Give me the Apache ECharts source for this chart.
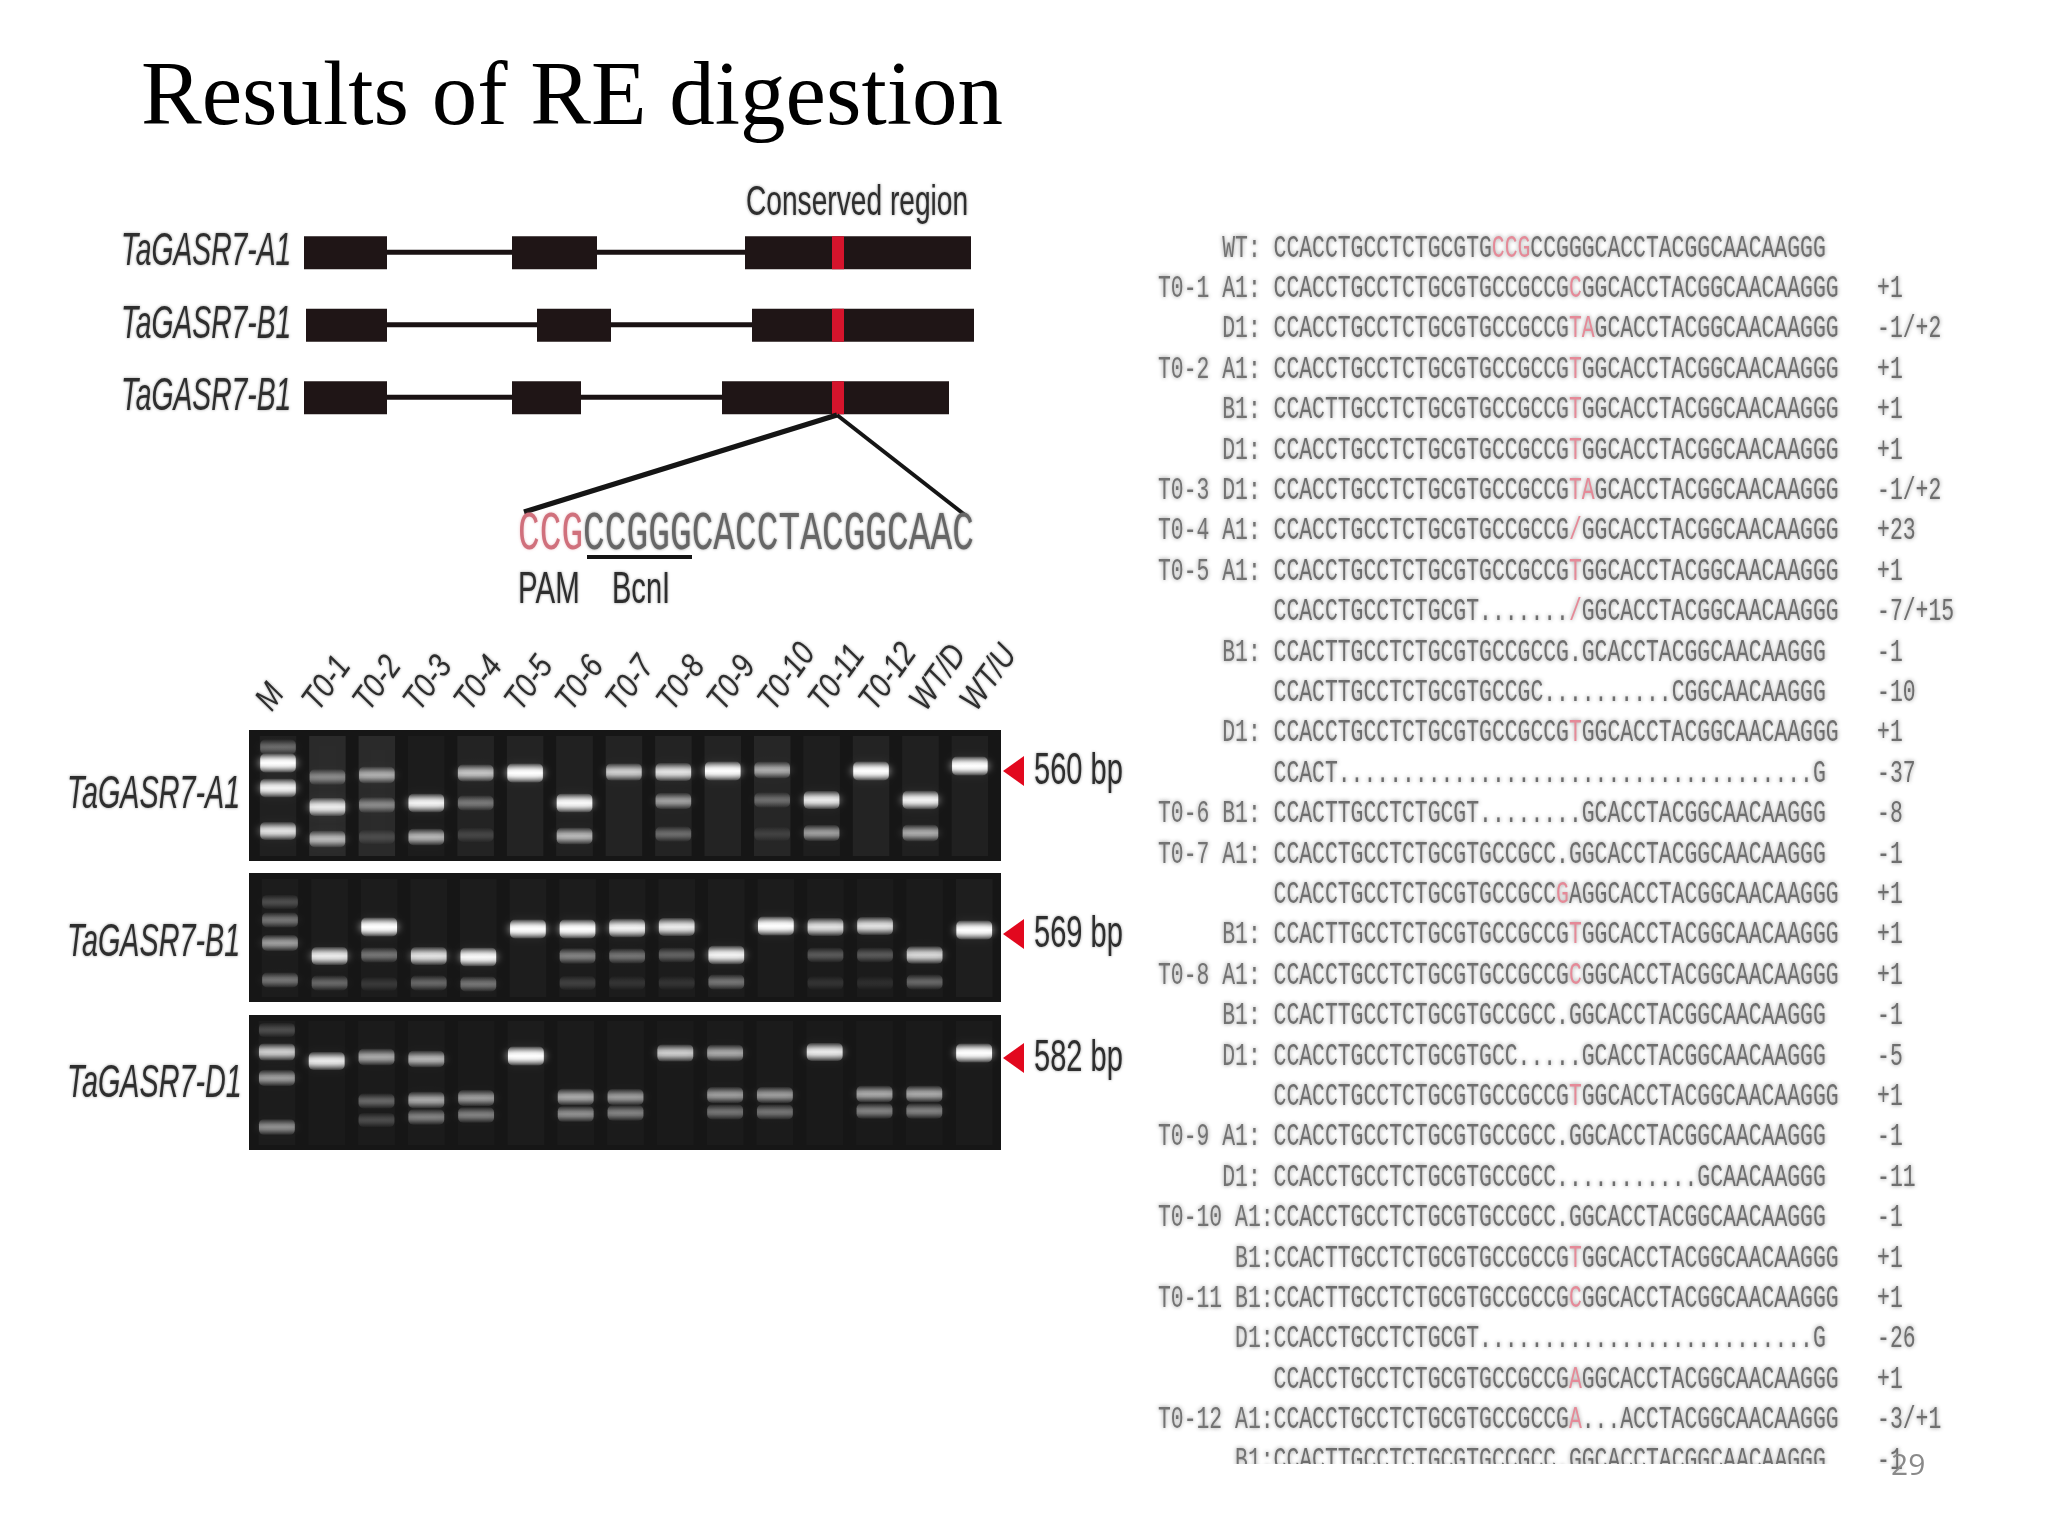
<!DOCTYPE html>
<html>
<head>
<meta charset="utf-8">
<title>Results of RE digestion</title>
<script src="https://cdn.jsdelivr.net/npm/echarts@6/dist/echarts.min.js"></script>
<style>
  html, body { margin: 0; padding: 0; background: #fff; }
  #main { width: 2048px; height: 1536px; }
</style>
</head>
<body>
<div id="main"></div>
<script>
var slideTitle = 'Results of RE digestion';
var pageNumber = '29';

// gene models, positions along the gene
var geneNames = ['TaGASR7-A1', 'TaGASR7-B1', 'TaGASR7-B1'];
var exonStarts = [[0, 208, 441], [2, 233, 448], [0, 208, 418]];
var exonEnds = [[83, 293, 667], [83, 307, 670], [83, 277, 645]];
var targetSite = [[528, 540], [528, 540], [528, 540]];

var targetPam = 'CCG';
var targetRest = 'CCGGGCACCTACGGCAAC';

// gels: one list per lane
var laneNames = ['M', 'T0-1', 'T0-2', 'T0-3', 'T0-4', 'T0-5', 'T0-6', 'T0-7', 'T0-8', 'T0-9', 'T0-10', 'T0-11', 'T0-12', 'WT/D', 'WT/U'];
var gelNames = ['TaGASR7-A1', 'TaGASR7-B1', 'TaGASR7-D1'];
var bpLabels = ['560 bp', '569 bp', '582 bp'];
var bpMigration = [41, 61, 43];

var gelA1Migration = [[17, 33, 58, 101], [47, 77, 109], [45, 75, 107], [73, 107], [43, 73, 105], [43], [73, 106], [42], [42, 71, 104], [41], [40, 70, 104], [70, 103], [41], [70, 103], [36]];
var gelA1Signal = [[.3, 1, .9, .8], [.4, .85, .6], [.55, .4, .15], [.9, .6], [.65, .35, .15], [1], [.95, .6], [.7], [.8, .5, .3], [1], [.55, .3, .12], [.85, .5], [1], [.9, .55], [1]];
var gelA1Haze = [.2, .5, .5, .1, .3, .3, .25, .3, .3, .3, .4, .15, .3, .2, .2];

var gelB1Migration = [[29, 47, 70, 107], [83, 110], [54, 82, 111], [83, 110], [84, 111], [56], [56, 83, 110], [55, 83, 110], [54, 82, 110], [82, 109], [53], [54, 82, 110], [53, 82, 110], [82, 109], [57]];
var gelB1Signal = [[.2, .35, .5, .35], [.85, .3], [1, .35, .12], [.8, .3], [.95, .35], [1], [1, .4, .15], [.9, .35, .1], [.85, .28, .1], [.9, .35], [1], [.8, .25, .1], [.8, .25, .08], [.75, .3], [1]];
var gelB1Haze = [.1, .08, .08, .08, .08, .12, .1, .08, .08, .08, .1, .06, .06, .06, .15];

var gelD1Migration = [[15, 37, 63, 112], [46], [42, 86, 105], [44, 85, 102], [83, 100], [41], [82, 99], [82, 98], [38], [38, 80, 97], [80, 97], [37], [79, 96], [79, 96], [38]];
var gelD1Signal = [[.2, .7, .5, .45], [.85], [.55, .3, .2], [.6, .55, .4], [.5, .4], [1], [.55, .45], [.5, .4], [.7], [.55, .5, .35], [.5, .35], [.85], [.55, .4], [.55, .4], [1]];
var gelD1Haze = [.08, .04, .06, .06, .04, .08, .05, .05, .04, .05, .05, .04, .04, .04, .06];

// sequences, the edited bases are in []
var rowPrefix = ['     WT: ', 'T0-1 A1: ', '     D1: ', 'T0-2 A1: ', '     B1: ', '     D1: ', 'T0-3 D1: ', 'T0-4 A1: ', 'T0-5 A1: ', '         ', '     B1: ', '         ', '     D1: ', '         ', 'T0-6 B1: ', 'T0-7 A1: ', '         ', '     B1: ', 'T0-8 A1: ', '     B1: ', '     D1: ', '         ', 'T0-9 A1: ', '     D1: ', 'T0-10 A1:', '      B1:', 'T0-11 B1:', '      D1:', '         ', 'T0-12 A1:', '      B1:'];
var rowSeq = [
  'CCACCTGCCTCTGCGTG[CCG]CCGGGCACCTACGGCAACAAGGG',
  'CCACCTGCCTCTGCGTGCCGCCG[C]GGCACCTACGGCAACAAGGG',
  'CCACCTGCCTCTGCGTGCCGCCG[TA]GCACCTACGGCAACAAGGG',
  'CCACCTGCCTCTGCGTGCCGCCG[T]GGCACCTACGGCAACAAGGG',
  'CCACTTGCCTCTGCGTGCCGCCG[T]GGCACCTACGGCAACAAGGG',
  'CCACCTGCCTCTGCGTGCCGCCG[T]GGCACCTACGGCAACAAGGG',
  'CCACCTGCCTCTGCGTGCCGCCG[TA]GCACCTACGGCAACAAGGG',
  'CCACCTGCCTCTGCGTGCCGCCG[/]GGCACCTACGGCAACAAGGG',
  'CCACCTGCCTCTGCGTGCCGCCG[T]GGCACCTACGGCAACAAGGG',
  'CCACCTGCCTCTGCGT.......[/]GGCACCTACGGCAACAAGGG',
  'CCACTTGCCTCTGCGTGCCGCCG.GCACCTACGGCAACAAGGG',
  'CCACTTGCCTCTGCGTGCCGC..........CGGCAACAAGGG',
  'CCACCTGCCTCTGCGTGCCGCCG[T]GGCACCTACGGCAACAAGGG',
  'CCACT.....................................G',
  'CCACTTGCCTCTGCGT........GCACCTACGGCAACAAGGG',
  'CCACCTGCCTCTGCGTGCCGCC.GGCACCTACGGCAACAAGGG',
  'CCACCTGCCTCTGCGTGCCGCC[G]AGGCACCTACGGCAACAAGGG',
  'CCACTTGCCTCTGCGTGCCGCCG[T]GGCACCTACGGCAACAAGGG',
  'CCACCTGCCTCTGCGTGCCGCCG[C]GGCACCTACGGCAACAAGGG',
  'CCACTTGCCTCTGCGTGCCGCC.GGCACCTACGGCAACAAGGG',
  'CCACCTGCCTCTGCGTGCC.....GCACCTACGGCAACAAGGG',
  'CCACCTGCCTCTGCGTGCCGCCG[T]GGCACCTACGGCAACAAGGG',
  'CCACCTGCCTCTGCGTGCCGCC.GGCACCTACGGCAACAAGGG',
  'CCACCTGCCTCTGCGTGCCGCC...........GCAACAAGGG',
  'CCACCTGCCTCTGCGTGCCGCC.GGCACCTACGGCAACAAGGG',
  'CCACTTGCCTCTGCGTGCCGCCG[T]GGCACCTACGGCAACAAGGG',
  'CCACTTGCCTCTGCGTGCCGCCG[C]GGCACCTACGGCAACAAGGG',
  'CCACCTGCCTCTGCGT..........................G',
  'CCACCTGCCTCTGCGTGCCGCCG[A]GGCACCTACGGCAACAAGGG',
  'CCACCTGCCTCTGCGTGCCGCCG[A]...ACCTACGGCAACAAGGG',
  'CCACTTGCCTCTGCGTGCCGCC.GGCACCTACGGCAACAAGGG'
];
var rowChange = ['', '+1', '-1/+2', '+1', '+1', '+1', '-1/+2', '+23', '+1', '-7/+15', '-1', '-10', '+1', '-37', '-8', '-1', '+1', '+1', '+1', '-1', '-5', '+1', '-1', '-11', '-1', '+1', '+1', '-26', '+1', '-3/+1', '-1'];

var SANS = '"Liberation Sans"';
var MONO = '"Liberation Mono"';
var GREY_TEXT = '#2e2e2e';

function squeezed(text, x, y, size, scale, extra) {
  extra = extra || {};
  return {
    type: 'text',
    x: x,
    y: y,
    scaleX: scale,
    rotation: extra.rotation || 0,
    silent: true,
    style: {
      text: text,
      font: (extra.italic ? 'italic ' : '') + size + 'px ' + (extra.family || SANS),
      fill: extra.fill || GREY_TEXT,
      align: extra.align || 'left',
      verticalAlign: 'middle',
      textShadowColor: extra.glow || 'rgba(90,90,90,0.6)',
      textShadowBlur: extra.glowSize === undefined ? 3 : extra.glowSize
    }
  };
}

// one custom series per gel: haze in the lanes, then the bands
function hazeSeries(idx, haze, gelHeight) {
  return {
    type: 'custom',
    xAxisIndex: idx,
    yAxisIndex: idx,
    z: 1,
    silent: true,
    data: haze.map(function (h, i) { return [i, h]; }),
    renderItem: function (params, api) {
      var a = api.coord([api.value(0) - 0.37, 6]);
      var b = api.coord([api.value(0) + 0.37, gelHeight - 5]);
      var h = api.value(1);
      return {
        type: 'rect',
        shape: { x: a[0], y: a[1], width: b[0] - a[0], height: b[1] - a[1] },
        style: { fill: 'rgba(255,255,255,' + (0.015 + h * 0.14) + ')', shadowBlur: 8, shadowColor: 'rgba(255,255,255,' + (h * 0.14) + ')' }
      };
    }
  };
}

function bandSeries(idx, migration, signal) {
  var data = [];
  migration.forEach(function (list, lane) {
    list.forEach(function (m, k) {
      data.push([lane, m, signal[lane][k]]);
    });
  });
  return {
    type: 'custom',
    xAxisIndex: idx,
    yAxisIndex: idx,
    z: 2,
    silent: true,
    data: data,
    renderItem: function (params, api) {
      var p = api.coord([api.value(0), api.value(1)]);
      var s = api.value(2);
      var half = Math.abs(api.coord([0.36, 0])[0] - api.coord([0, 0])[0]);
      var thick = 13 + s * 6;
      return {
        type: 'rect',
        shape: { x: p[0] - half, y: p[1] - thick / 2, width: half * 2, height: thick, r: 5 },
        style: {
          fill: {
            type: 'linear', x: 0, y: 0, x2: 0, y2: 1,
            colorStops: [
              { offset: 0, color: 'rgba(255,255,255,' + s * 0.12 + ')' },
              { offset: 0.35, color: 'rgba(255,255,255,' + s * 0.85 + ')' },
              { offset: 0.5, color: 'rgba(255,255,255,' + s + ')' },
              { offset: 0.65, color: 'rgba(255,255,255,' + s * 0.85 + ')' },
              { offset: 1, color: 'rgba(255,255,255,' + s * 0.12 + ')' }
            ]
          },
          shadowBlur: 8,
          shadowColor: 'rgba(255,255,255,' + s * 0.6 + ')'
        }
      };
    }
  };
}

// red arrow and size on the right of each gel
function sizeSeries(idx, xMax) {
  return {
    type: 'custom',
    xAxisIndex: idx,
    yAxisIndex: idx,
    z: 3,
    silent: true,
    data: [[xMax, bpMigration[idx]]],
    renderItem: function (params, api) {
      var p = api.coord([api.value(0), api.value(1)]);
      return {
        type: 'group',
        children: [
          { type: 'polygon', shape: { points: [[p[0] + 2, p[1]], [p[0] + 23, p[1] - 15], [p[0] + 23, p[1] + 15]] }, style: { fill: '#e2081e' } },
          squeezed(bpLabels[idx], p[0] + 33, p[1] + 1, 44, 0.66)
        ]
      };
    }
  };
}

var gelBoxes = [
  { top: 730, height: 131, xMin: -0.587, xMax: 14.63 },
  { top: 873, height: 129, xMin: -0.625, xMax: 14.54 },
  { top: 1015, height: 135, xMin: -0.56, xMax: 14.54 }
];
var gelMigration = [gelA1Migration, gelB1Migration, gelD1Migration];
var gelSignal = [gelA1Signal, gelB1Signal, gelD1Signal];
var gelHaze = [gelA1Haze, gelB1Haze, gelD1Haze];

var grids = [], xAxes = [], yAxes = [], series = [];

gelBoxes.forEach(function (box, i) {
  grids.push({ left: 249, width: 752, top: box.top, height: box.height, show: true, backgroundColor: '#161616', borderWidth: 0 });
  xAxes.push({ type: 'value', gridIndex: i, min: box.xMin, max: box.xMax, show: false });
  yAxes.push({ type: 'value', gridIndex: i, min: 0, max: box.height, inverse: true, show: false });
  series.push(hazeSeries(i, gelHaze[i], box.height));
  series.push(bandSeries(i, gelMigration[i], gelSignal[i]));
  series.push(sizeSeries(i, box.xMax));
});

// lane names above the first gel
series.push({
  type: 'custom',
  xAxisIndex: 0,
  yAxisIndex: 0,
  z: 3,
  silent: true,
  data: laneNames.map(function (n, i) { return [i, 0]; }),
  renderItem: function (params, api) {
    var p = api.coord([api.value(0), api.value(1)]);
    var shift = params.dataIndex === 0 ? -14 : -18;
    return squeezed(laneNames[params.dataIndex], p[0] + shift + params.dataIndex * 1.2, p[1] - 23, 34, 0.82, { italic: true, rotation: 0.95 });
  }
});

// gene models
var gi = grids.length;
grids.push({ left: 304, width: 670, top: 216, height: 217.5, show: false });
xAxes.push({ type: 'value', gridIndex: gi, min: 0, max: 670, show: false });
yAxes.push({ type: 'category', gridIndex: gi, data: geneNames.map(function (n, i) { return i + ':' + n; }), inverse: true, show: false });
series.push({
  type: 'custom',
  xAxisIndex: gi,
  yAxisIndex: gi,
  z: 2,
  silent: true,
  data: geneNames.map(function (n, i) { return [0, i]; }),
  renderItem: function (params, api) {
    var i = params.dataIndex;
    var starts = exonStarts[i], ends = exonEnds[i];
    var cy = api.coord([0, i])[1];
    var kids = [];
    var a = api.coord([starts[0], i]), b = api.coord([ends[ends.length - 1], i]);
    kids.push({ type: 'rect', shape: { x: a[0], y: cy - 2.5, width: b[0] - a[0], height: 5 }, style: { fill: '#1a1213' } });
    starts.forEach(function (s, k) {
      var p = api.coord([s, i]), q = api.coord([ends[k], i]);
      kids.push({ type: 'rect', shape: { x: p[0], y: cy - 16, width: q[0] - p[0], height: 33 }, style: { fill: '#1f1516' } });
    });
    var r1 = api.coord([targetSite[i][0], i]), r2 = api.coord([targetSite[i][1], i]);
    kids.push({ type: 'rect', shape: { x: r1[0], y: cy - 16, width: r2[0] - r1[0], height: 33 }, style: { fill: '#d5142c' } });
    return { type: 'group', children: kids };
  }
});

// alignment on the right, x axis counts characters
var si = grids.length;
grids.push({ left: 1158, width: 66 * 12.84, top: 227.9, height: 1252.4, show: false });
xAxes.push({ type: 'value', gridIndex: si, min: 0, max: 66, show: false });
yAxes.push({ type: 'category', gridIndex: si, data: rowSeq.map(function (s, i) { return 'r' + i; }), inverse: true, show: false });
var seqSize = 32;
var seqScale = 12.84 / (seqSize * 0.6);
series.push({
  type: 'custom',
  xAxisIndex: si,
  yAxisIndex: si,
  z: 2,
  silent: true,
  data: rowSeq.map(function (s, i) { return [0, i]; }),
  renderItem: function (params, api) {
    var i = params.dataIndex;
    var kids = [];
    function put(text, col, fill) {
      if (!text) return;
      var p = api.coord([col, i]);
      kids.push(squeezed(text, p[0], p[1], seqSize, seqScale, { family: MONO, fill: fill, glow: 'rgba(120,120,120,0.8)', glowSize: 4 }));
    }
    put(rowPrefix[i].replace(/ +$/, ''), 0, '#737373');
    var parts = rowSeq[i].split(/[\[\]]/);
    var col = rowPrefix[i].length;
    put(parts[0], col, '#6e6e6e');
    col += parts[0].length;
    if (parts.length > 1) {
      put(parts[1], col, '#e58a98');
      col += parts[1].length;
      put(parts[2], col, '#6e6e6e');
    }
    put(rowChange[i], 56, '#6e6e6e');
    return { type: 'group', children: kids };
  }
});

function label(text, x, y, size, scale, extra) {
  var t = squeezed(text, x, y, size, scale, extra);
  t.z = 10;
  return t;
}

var texts = [
  label(slideTitle, 141, 100, 91, 1, { family: '"Liberation Serif"', fill: '#000', glowSize: 0 }),
  label('Conserved region', 746, 203, 42, 0.67),
  label(targetPam, 518, 535, 54, 0.67, { family: MONO, fill: '#d0707c', glow: 'rgba(208,112,124,0.4)' }),
  label(targetRest, 518 + 3 * 21.7, 535, 54, 0.67, { family: MONO, fill: '#666' }),
  label('PAM', 518, 591, 44, 0.67),
  label('BcnI', 612, 591, 44, 0.66),
  label(pageNumber, 1891, 1466, 30, 1, { family: '"Open Sans"', fill: '#8a8a8a', glowSize: 0 })
];
[252, 325, 397].forEach(function (y, i) {
  texts.push(label(geneNames[i], 121, y, 46, 0.615, { italic: true }));
});
[795, 943, 1084].forEach(function (y, i) {
  texts.push(label(gelNames[i], 67, y, 46, 0.625, { italic: true }));
});
// callout lines from the target site and the BcnI underline
var callouts = [
  [[837, 415], [524, 512], 5],
  [[837, 415], [965, 515], 4],
  [[587, 557], [692, 557], 4]
].map(function (c) {
  return { type: 'line', z: 9, silent: true, shape: { x1: c[0][0], y1: c[0][1], x2: c[1][0], y2: c[1][1] }, style: { stroke: '#151515', lineWidth: c[2] } };
});

// the slide cuts the last alignment row off along its bottom
var rowMask = { type: 'rect', z: 9, silent: true, shape: { x: 1150, y: 1464, width: 740, height: 26 }, style: { fill: '#fff' } };

var chart = echarts.init(document.getElementById('main'), null, { renderer: 'canvas' });
chart.setOption({
  animation: false,
  backgroundColor: '#fff',
  grid: grids,
  xAxis: xAxes,
  yAxis: yAxes,
  series: series,
  graphic: { elements: texts.concat(callouts, [rowMask]) }
});
</script>
</body>
</html>
